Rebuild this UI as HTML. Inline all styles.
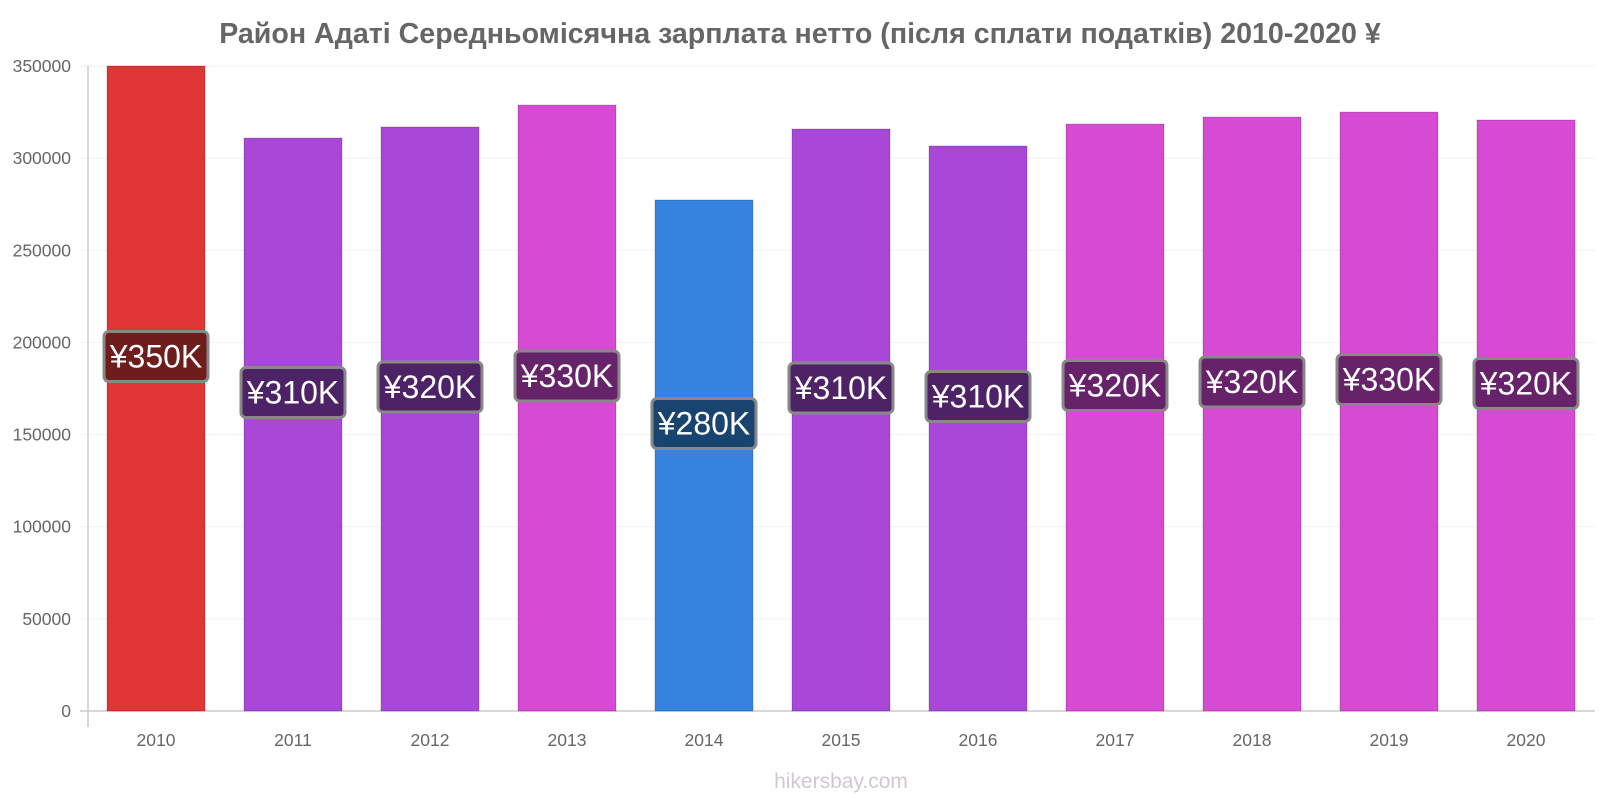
<!DOCTYPE html>
<html><head><meta charset="utf-8"><style>
html,body{margin:0;padding:0;background:#fff;font-family:"Liberation Sans",sans-serif;width:1600px;height:800px;overflow:hidden;}
svg{display:block;}
svg text{font-family:"Liberation Sans",sans-serif;}
</style></head><body>
<svg id="c" width="1600" height="800" viewBox="0 0 1600 800">
<text x="800" y="43" text-anchor="middle" font-size="28.6" font-weight="bold" fill="#666">Район Адаті Середньомісячна зарплата нетто (після сплати податків) 2010-2020 ¥</text>
<text x="841" y="788" text-anchor="middle" font-size="21" fill="#cfc8d0">hikersbay.com</text>
</svg>
<script>
const years=["2010","2011","2012","2013","2014","2015","2016","2017","2018","2019","2020"];
const values=[350000,310900,316900,328800,277300,315800,306600,318500,322300,325000,320700];
const labels=["¥350K","¥310K","¥320K","¥330K","¥280K","¥310K","¥310K","¥320K","¥320K","¥330K","¥320K"];
const kinds=["r","p","p","m","b","p","p","m","m","m","m"];
const yTicks=[0,50000,100000,150000,200000,250000,300000,350000];
const fills={r:"#e03535",p:"#a847d8",m:"#d64ad4",b:"#3584e0"};
const dark={r:"#6e1c1c",p:"#4d2266",m:"#66236a",b:"#1a4470"};
const svg=document.getElementById('c');const NS="http://www.w3.org/2000/svg";
const y0=711,yTop=66,ymax=350000;
const y=v=>y0-(v/ymax)*(y0-yTop);
const x=i=>156+i*137;
function mk(t,a){const e=document.createElementNS(NS,t);for(const k in a)e.setAttribute(k,a[k]);svg.appendChild(e);return e;}
yTicks.forEach(v=>{
 const g=mk('line',{x1:80,x2:1595,y1:y(v),y2:y(v),stroke:v?"#f2f2f2":"#ccc",'stroke-width':v?1:1.5});
 
 
 const t=mk('text',{x:71,y:y(v)+6,'text-anchor':'end','font-size':17.5,fill:'#666'});t.textContent=v;
 
 
});
const ax=mk('line',{x1:88,x2:88,y1:66,y2:727,stroke:'#ccc','stroke-width':1.5});


values.forEach((v,i)=>{
 const k=kinds[i];
 const b=mk('rect',{x:x(i)-49,y:y(v),width:98,height:y0-y(v),fill:fills[k],stroke:'rgba(0,0,0,0.2)'});
 
 
 const t=mk('text',{x:x(i),y:746,'text-anchor':'middle','font-size':17.5,fill:'#666'});t.textContent=years[i];
 
 
 const cy=(y(v)+y0)/2-32;
 const r=mk('rect',{x:x(i)-52,y:cy-25,width:104,height:50,rx:5,fill:dark[k],stroke:'#888','stroke-width':3});
 
 
 const l=mk('text',{x:x(i),y:cy+11,'text-anchor':'middle','font-size':32,fill:'#fff'});l.textContent=labels[i];
 
 
});
</script>
</body></html>
